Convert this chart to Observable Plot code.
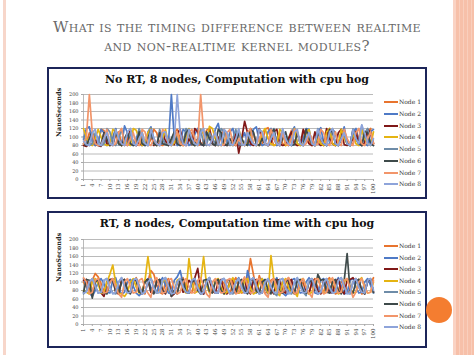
<!DOCTYPE html>
<html>
<head>
<meta charset="utf-8">
<script src="https://cdn.jsdelivr.net/npm/d3@7"></script>
<script src="https://cdn.jsdelivr.net/npm/@observablehq/plot@0.6"></script>
<style>
  html, body { margin: 0; padding: 0; background: #fff; }
  #slide { position: relative; width: 474px; height: 355px; overflow: hidden; background: #fff; }
  .abs { position: absolute; }
  #title { left: 10px; width: 454px; top: 18px; text-align: center; font-family: "DejaVu Serif", serif;
           font-variant: small-caps; font-size: 15px; letter-spacing: 0.35px; line-height: 19px; color: #6a6a6a; }
  .box { position: absolute; left: 47px; width: 376px; border: 2px solid #1c2559; background: #fff; }
  .ctitle { position: absolute; left: 0; width: 100%; text-align: center; font-family: "DejaVu Serif", serif;
            font-weight: bold; font-size: 11px; color: #111; }
  .legend { position: absolute; font-family: "DejaVu Serif", serif; font-size: 6px; color: #333; }
  .legend .row { position: absolute; left: 0; height: 8px; white-space: nowrap; }
  .legend .sw { position: absolute; left: 0; top: 3px; width: 14px; height: 2px; }
  .legend .lb { position: absolute; left: 15px; top: 0; line-height: 8px; }
</style>
</head>
<body>
<div id="slide">
  <div class="abs" style="left:3px;top:0;width:3px;height:355px;background:#f7d6ca;"></div>
  <div class="abs" style="left:453px;top:0;width:3px;height:355px;background:#fad3c4;"></div>
  <div class="abs" style="left:456px;top:0;width:18px;height:355px;background:repeating-linear-gradient(90deg,#f7c0a9 0 3px,#f9cfbd 3px 4px);"></div>
  <div id="title" class="abs">What is the timing difference between realtime<br>and non-realtime kernel modules?</div>

  <div class="box" style="top:67px;height:128px;"></div>
  <div class="box" style="top:211px;height:133px;"></div>
  <div class="ctitle" style="top:73px;left:47px;width:380px;">No RT, 8 nodes, Computation with cpu hog</div>
  <div class="ctitle" style="top:217px;left:47px;width:380px;">RT, 8 nodes, Computation time with cpu hog</div>

  <div id="chart1" class="abs" style="left:47px;top:85px;"></div>
  <div id="chart2" class="abs" style="left:47px;top:230px;"></div>
  <div id="legend1" class="legend" style="left:384px;top:98px;"></div>
  <div id="legend2" class="legend" style="left:384px;top:242px;"></div>

  <div class="abs" style="left:426px;top:297px;width:26px;height:26px;border-radius:50%;background:#f47d30;"></div>
</div>
<script>
// ---- data ----
const nodeNames = ["Node 1","Node 2","Node 3","Node 4","Node 5","Node 6","Node 7","Node 8"];
const nodeColors = ["#e8742e","#4f7ac6","#801818","#e5b412","#6e8ca8","#3e4a4a","#f2956a","#8ea4da"];
const yTicks = [0,20,40,60,80,100,120,140,160,180,200];
const xTicks = [1,4,7,10,13,16,19,22,25,28,31,34,37,40,43,46,49,52,55,58,61,64,67,70,73,76,79,82,85,88,91,94,97,100];

// No RT chart (NanoSeconds per sample, samples 1..100)
const noRtNode1 = [82,85,110,96,80,84,118,115,90,82, 80,105,112,84,80,96,115,82,80,88,
  112,84,80,95,118,110,82,80,86,100, 84,110,118,96,80,82,115,108,84,80,
  82,90,116,120,96,84,80,102,118,86, 82,80,96,112,84,80,88,120,110,82,
  80,84,118,122,96,80,82,110,84,80, 96,116,85,80,82,108,118,90,80,84,
  112,86,80,96,120,84,80,82,110,116, 88,80,84,118,96,80,82,112,120,85];
const noRtNode2 = [95,120,124,88,80,84,118,110,80,84, 100,120,82,80,126,110,84,80,96,118,
  84,80,112,124,96,82,80,86,110,84, 200,96,80,84,118,112,80,84,106,120,
  82,80,110,96,84,118,132,96,80,84, 112,120,84,80,96,110,84,80,118,124,
  90,80,84,112,120,96,80,84,118,86, 80,110,124,84,80,96,120,118,84,80,
  112,122,86,80,84,118,110,80,96,124, 84,80,112,120,86,128,84,80,112,118];
const noRtNode3 = [80,78,84,82,96,80,78,110,84,80, 82,112,96,80,84,82,118,84,80,86,
  80,84,96,112,80,82,84,110,90,80, 84,82,108,118,84,80,96,82,120,112,
  84,80,88,118,84,80,96,110,82,80, 84,86,108,62,96,137,110,84,80,82,
  120,96,84,80,86,112,118,84,80,82, 96,112,84,80,82,118,96,84,80,112,
  86,80,84,120,96,84,80,110,118,82, 80,84,96,112,84,80,86,118,110,84];
const noRtNode4 = [120,98,84,80,96,118,100,84,80,82, 118,112,84,80,90,84,80,120,116,96,
  80,84,110,120,84,80,82,96,118,84, 80,86,110,84,80,96,120,84,80,82,
  118,106,84,125,120,96,84,80,88,110, 84,80,82,118,96,80,84,112,84,80,
  82,110,120,96,84,80,84,118,110,80, 84,96,120,84,80,82,110,118,84,80,
  96,84,80,112,120,84,80,86,118,96, 84,80,110,84,80,118,96,84,80,112];
const noRtNode5 = [100,90,80,84,110,96,80,84,120,112, 84,80,96,118,84,80,110,86,80,120,
  96,84,80,110,84,80,118,96,84,80, 84,110,96,80,84,120,110,84,80,96,
  118,84,80,110,96,84,80,120,112,84, 80,96,118,84,80,82,110,96,84,80,
  118,110,84,80,96,120,84,80,110,96, 84,80,118,112,84,80,96,110,84,80,
  120,96,84,80,110,118,84,80,96,112, 84,80,118,96,84,80,110,120,84,80];
const noRtNode6 = [85,80,96,112,84,80,82,110,96,80, 84,118,84,80,96,110,84,80,82,112,
  84,80,96,118,84,80,110,84,82,80, 96,112,84,80,82,110,118,84,80,96,
  84,80,112,96,84,80,118,110,84,80, 96,84,80,110,96,84,80,118,112,84,
  80,96,84,80,110,118,84,80,96,112, 84,80,82,110,84,80,118,96,84,80,
  110,96,84,80,118,112,84,80,96,110, 84,80,118,96,84,80,112,110,84,80];
const noRtNode7 = [84,100,200,110,84,80,82,96,118,84, 80,84,110,120,84,80,96,110,84,80,
  118,112,84,80,96,84,80,118,110,84, 80,96,112,84,80,84,110,118,96,84,
  200,110,84,80,96,112,84,80,82,110, 118,84,80,96,84,80,110,120,84,80,
  96,112,84,80,118,96,84,80,110,84, 80,96,118,112,84,80,84,110,96,80,
  84,118,110,84,80,96,112,84,80,118, 96,84,80,110,120,84,80,96,112,84];
const noRtNode8 = [90,82,80,110,118,84,80,96,110,84, 80,118,96,84,80,112,120,84,80,96,
  110,84,80,118,96,84,80,110,112,84, 80,96,200,110,84,80,118,96,84,80,
  110,120,84,80,96,112,84,80,118,110, 84,80,96,120,84,80,110,96,84,80,
  118,112,84,80,96,110,84,80,120,96, 84,80,112,118,84,80,96,110,84,80,
  118,96,84,80,112,120,84,80,96,110, 84,80,118,96,84,128,110,84,80,96];

// RT chart
const rtNode1 = [100,88,76,104,120,112,96,78,74,100, 108,86,72,104,96,76,74,100,110,92,
  76,72,102,127,118,94,76,72,100,108, 86,74,76,104,110,90,74,76,102,96,
  78,72,100,108,88,74,76,104,96,78, 72,100,110,86,74,76,102,155,118,80,
  115,96,74,76,104,108,84,72,76,100, 110,92,74,76,104,96,78,72,100,108,
  86,74,76,104,110,90,72,76,102,96, 78,74,100,108,88,72,76,104,96,110];
const rtNode2 = [108,92,74,66,80,100,108,96,76,74, 104,110,84,72,76,100,106,90,74,68,
  76,102,108,88,74,76,100,110,92,74, 72,104,112,127,96,76,74,100,108,86,
  74,72,102,110,90,76,74,104,108,88, 74,76,100,110,92,74,127,100,76,74,
  104,108,86,72,76,100,110,90,74,68, 76,104,108,88,74,76,100,110,92,74,
  72,104,108,86,74,76,100,110,90,72, 74,104,108,88,74,76,100,108,92,74];
const rtNode3 = [104,106,78,72,104,106,74,66,100,106, 106,76,72,104,106,80,74,100,106,78,
  72,104,106,76,74,100,106,80,72,104, 66,72,100,106,76,80,104,96,110,132,
  80,72,104,106,78,74,100,106,76,72, 104,106,80,74,100,106,78,72,104,106,
  76,74,100,106,80,72,104,106,78,74, 100,106,76,72,104,106,80,74,100,106,
  78,72,104,106,76,74,100,106,80,72, 104,106,110,100,106,78,72,104,106,76];
const rtNode4 = [80,76,72,100,108,96,74,76,100,118, 140,96,74,72,66,76,100,108,88,74,
  76,104,160,110,88,74,76,100,108,84, 72,76,104,108,86,74,155,104,74,78,
  100,160,92,74,76,104,108,88,72,76, 100,110,90,74,76,104,108,86,72,76,
  100,108,88,74,162,104,74,68,100,108, 86,74,76,66,104,108,88,72,76,100,
  110,90,74,76,104,108,86,72,76,100, 108,88,74,76,104,110,86,74,76,100];
const rtNode5 = [72,80,100,108,92,74,76,104,108,88, 74,72,100,110,90,76,74,104,108,86,
  72,76,100,108,92,74,76,104,110,88, 72,74,100,108,90,76,74,104,108,86,
  72,76,100,110,92,74,76,104,108,88, 74,72,100,108,90,76,74,104,110,86,
  72,76,100,108,92,74,68,104,108,88, 74,72,100,110,90,76,68,104,108,86,
  72,76,100,108,92,74,76,104,110,88, 74,72,100,108,90,76,74,104,108,74];
const rtNode6 = [76,106,104,62,100,106,80,74,72,104, 106,78,74,100,106,80,72,104,106,76,
  74,100,106,80,72,104,106,78,74,100, 66,80,72,104,106,76,74,100,106,80,
  72,104,106,78,74,100,106,80,72,104, 106,76,74,100,106,80,72,104,106,78,
  74,100,106,80,72,104,106,76,74,100, 106,80,72,104,106,78,74,100,106,80,
  118,104,106,76,74,100,106,80,72,104, 167,80,74,100,106,78,72,104,106,76];
const rtNode7 = [110,100,72,76,104,108,86,74,76,100, 108,88,72,64,100,108,90,74,76,104,
  108,86,74,64,100,110,90,74,76,104, 108,86,72,76,100,108,88,74,76,104,
  110,90,72,64,100,108,86,74,76,104, 108,88,72,76,100,112,90,74,76,104,
  108,86,72,64,100,108,88,74,76,104, 110,90,72,76,100,108,86,74,64,104,
  108,88,72,76,100,110,90,74,76,104, 108,86,64,76,100,108,88,74,76,104];
const rtNode8 = [74,76,100,108,90,74,76,104,108,86, 72,76,100,110,88,74,76,104,108,90,
  72,76,100,108,86,74,76,104,110,90, 72,74,100,108,88,76,74,104,108,86,
  72,76,100,110,90,74,76,104,108,88, 72,76,100,108,86,74,76,104,110,90,
  72,74,100,108,88,76,74,104,108,86, 72,76,100,110,90,74,76,104,108,88,
  72,76,100,108,86,74,76,104,110,90, 72,74,100,108,88,76,74,104,108,80];

const noRtSeries = [noRtNode1,noRtNode2,noRtNode3,noRtNode4,noRtNode5,noRtNode6,noRtNode7,noRtNode8];
const rtSeries = [rtNode1,rtNode2,rtNode3,rtNode4,rtNode5,rtNode6,rtNode7,rtNode8];

function makeChart(series) {
  const rows = series.flatMap((vals, i) => vals.map((v, j) => ({sample: j + 1, ns: v, node: nodeNames[i]})));
  return Plot.plot({
    width: 331, height: 114,
    marginLeft: 36, marginRight: 5, marginTop: 9, marginBottom: 20,
    style: {fontFamily: "DejaVu Serif, serif", fontSize: "5px", color: "#444", background: "transparent", overflow: "visible"},
    x: {domain: [1, 100], label: null, axis: null},
    y: {domain: [0, 200], label: null, axis: null},
    color: {domain: nodeNames, range: nodeColors},
    marks: [
      Plot.gridY(yTicks, {stroke: "#a8a8a8", strokeOpacity: 1, strokeWidth: 0.8}),
      Plot.ruleX([1], {stroke: "#a8a8a8", strokeWidth: 0.8}),
      Plot.axisY(yTicks, {tickSize: 2, tickPadding: 3, stroke: "#a8a8a8", fontSize: 5, label: null}),
      Plot.axisX(xTicks, {tickRotate: -90, tickSize: 2, tickPadding: 2, stroke: "#a8a8a8", fontSize: 5.5, label: null}),
      Plot.text(["NanoSeconds"], {frameAnchor: "left", rotate: -90, dx: -25, fontWeight: "bold", fontSize: 6.5, fill: "#222"}),
      Plot.line(rows, {x: "sample", y: "ns", z: "node", stroke: "node", strokeWidth: 1.7, strokeLinejoin: "round"})
    ]
  });
}

function makeLegend(el, spacing) {
  nodeNames.forEach((n, i) => {
    const row = document.createElement("div");
    row.className = "row";
    row.style.top = (i * spacing) + "px";
    row.innerHTML = `<div class="sw" style="background:${nodeColors[i]}"></div><div class="lb">${n}</div>`;
    el.appendChild(row);
  });
}

document.getElementById("chart1").appendChild(makeChart(noRtSeries));
document.getElementById("chart2").appendChild(makeChart(rtSeries));
makeLegend(document.getElementById("legend1"), 11.75);
makeLegend(document.getElementById("legend2"), 11.6);
</script>
</body>
</html>
